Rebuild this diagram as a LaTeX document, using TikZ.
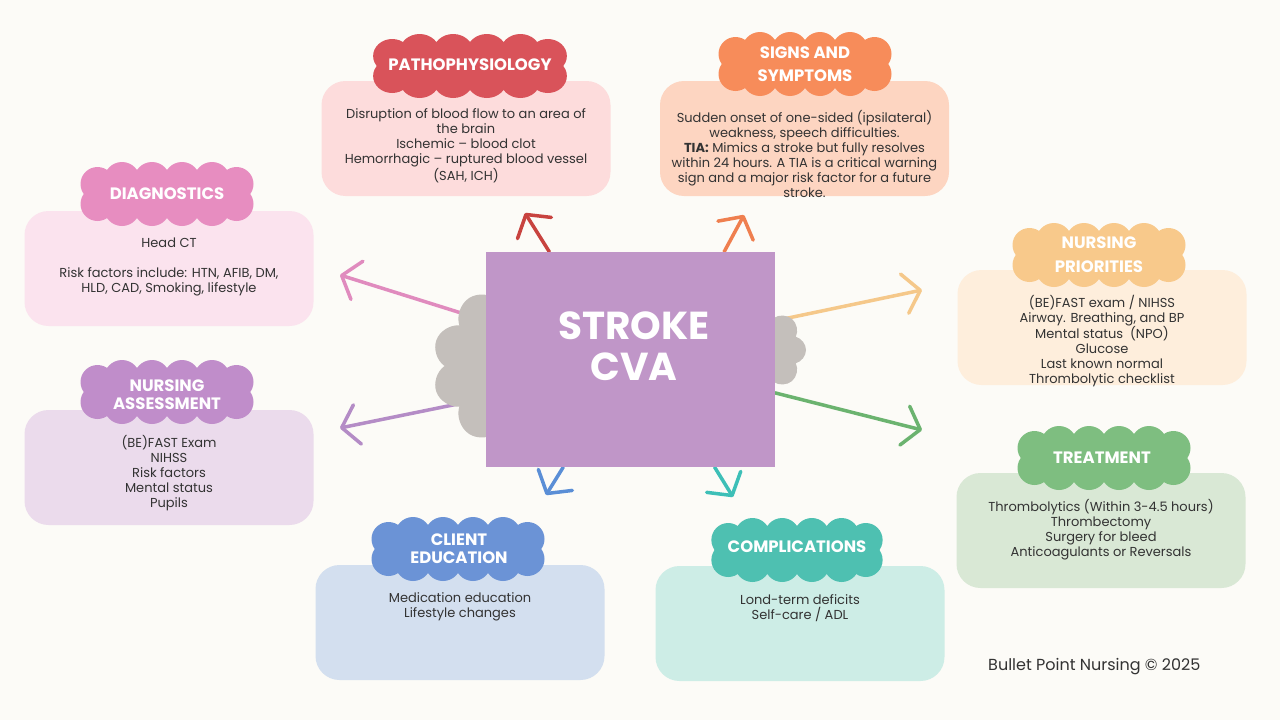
\documentclass[tikz,border=0pt]{standalone}
\usepackage{fontspec}
\setmainfont{Poppins}
\usepackage{tikz}
\usetikzlibrary{arrows.meta,positioning,calc,backgrounds,shapes.symbols}
\pgfdeclarelayer{page}
\pgfsetlayers{page,background,main}

\definecolor{pagebg}{HTML}{FCFBF7}
\definecolor{inktext}{HTML}{333333}
\definecolor{strokefill}{HTML}{C096C8}
\definecolor{puffgray}{HTML}{C4BFBB}
% topic colours: dark for the head, light for the box
\definecolor{pathdark}{HTML}{D9535A}
\definecolor{pathlight}{HTML}{FDDCDC}
\definecolor{signdark}{HTML}{F78C5A}
\definecolor{signlight}{HTML}{FDD5C1}
\definecolor{diagdark}{HTML}{E78DC0}
\definecolor{diaglight}{HTML}{FBE3EE}
\definecolor{assessdark}{HTML}{C08DCA}
\definecolor{assesslight}{HTML}{EBDBEC}
\definecolor{priodark}{HTML}{F8C98B}
\definecolor{priolight}{HTML}{FEEEDC}
\definecolor{treatdark}{HTML}{7EBE80}
\definecolor{treatlight}{HTML}{D9E8D5}
\definecolor{edudark}{HTML}{6B93D6}
\definecolor{edulight}{HTML}{D3DFEF}
\definecolor{compdark}{HTML}{4EC0B1}
\definecolor{complight}{HTML}{CDEDE6}
% arrow colours
\definecolor{patharrow}{HTML}{C8433F}
\definecolor{signarrow}{HTML}{EF7F4F}
\definecolor{diagarrow}{HTML}{E08BBE}
\definecolor{assessarrow}{HTML}{B48CC6}
\definecolor{prioarrow}{HTML}{F5C88A}
\definecolor{treatarrow}{HTML}{6BB36F}
\definecolor{eduarrow}{HTML}{5A8ED6}
\definecolor{comparrow}{HTML}{3DBFB7}

\tikzset{
  topicbox/.style={rounded corners=24pt, minimum width=289pt, minimum height=115pt, inner sep=0pt},
  headtext/.style={text=white, font=\bfseries\fontsize{16.5}{18}\selectfont, align=center, inner sep=0pt},
  bodytext/.style={text=inktext, font=\fontsize{13}{15}\selectfont, align=center, inner sep=0pt},
  graypuff/.style={cloud, cloud ignores aspect, fill=puffgray, inner sep=0pt},
  sketcharrow/.style={-{Straight Barb[length=16pt,width=40pt,round]}, line width=3.5pt, line cap=round}
}

% scalloped head behind a title: #1 centre, #2 colour, #3 x stretch
\newcommand{\headcloud}[3]{%
  \begin{scope}[shift={(#1)}, xscale=#3]
    \fill[#2] (-70,-14) rectangle (70,14);
    \foreach \px in {-45,-15,15,45}
      \fill[#2] (\px,-14) circle[radius=18] (\px,14) circle[radius=18];
    \foreach \px in {-69.5,69.5}
      \fill[#2] (\px,-10) circle[radius=17] (\px,10) circle[radius=17];
  \end{scope}}

\begin{document}
\begin{tikzpicture}[x=1pt, y=-1pt]
  \useasboundingbox (0,0) rectangle (1280,720);
  \begin{pgfonlayer}{page}
    \fill[pagebg] (0,0) rectangle (1280,720);
  \end{pgfonlayer}

  % grey puffs behind the centre
  \node[graypuff, cloud puffs=10, minimum width=180pt, minimum height=168pt] (leftpuff) at (522,366) {};
  \node[graypuff, cloud puffs=8, minimum width=96pt, minimum height=88pt] (rightpuff) at (758,350) {};

  % centre
  \node[fill=strokefill, minimum width=289pt, minimum height=215pt, inner sep=0pt] (stroke) at (630.5,359.5) {};
  \node[text=white, font=\bfseries\fontsize{39}{41}\selectfont, align=center, inner sep=0pt] (strokelabel) at (634,346) {STROKE\\CVA};

  % topic boxes
  \node[topicbox, fill=pathlight] (pathbox) at (466,138.5) {};
  \node[topicbox, fill=signlight] (signbox) at (804.5,138.5) {};
  \node[topicbox, fill=diaglight] (diagbox) at (169,268.5) {};
  \node[topicbox, fill=assesslight] (assessbox) at (169,467.5) {};
  \node[topicbox, fill=priolight] (priobox) at (1102,327.5) {};
  \node[topicbox, fill=treatlight] (treatbox) at (1101,530.5) {};
  \node[topicbox, fill=edulight] (edubox) at (460,622.5) {};
  \node[topicbox, fill=complight] (compbox) at (800,623.5) {};

  % cloud heads
  \coordinate (pathhead) at (470,66);
  \coordinate (signhead) at (805,64);
  \coordinate (diaghead) at (167,194);
  \coordinate (assesshead) at (167,392);
  \coordinate (priohead) at (1099,255);
  \coordinate (treathead) at (1104,458);
  \coordinate (eduhead) at (458,549);
  \coordinate (comphead) at (797,550);
  \headcloud{pathhead}{pathdark}{1.12}
  \headcloud{signhead}{signdark}{1}
  \headcloud{diaghead}{diagdark}{1}
  \headcloud{assesshead}{assessdark}{1}
  \headcloud{priohead}{priodark}{1}
  \headcloud{treathead}{treatdark}{1}
  \headcloud{eduhead}{edudark}{1}
  \headcloud{comphead}{compdark}{0.99}

  \node[headtext] (pathtitle) at ($(pathhead)+(0,-1)$) {PATHOPHYSIOLOGY};
  \node[headtext, font=\bfseries\fontsize{16.5}{23}\selectfont] (signtitle) at (signhead) {SIGNS AND\\SYMPTOMS};
  \node[headtext] (diagtitle) at (diaghead) {DIAGNOSTICS};
  \node[headtext] (assesstitle) at ($(assesshead)+(0,3)$) {NURSING\\ASSESSMENT};
  \node[headtext, font=\bfseries\fontsize{16.5}{24}\selectfont] (priotitle) at (priohead) {NURSING\\PRIORITIES};
  \node[headtext] (treattitle) at ($(treathead)+(-2,0)$) {TREATMENT};
  \node[headtext] (edutitle) at ($(eduhead)+(1,0)$) {CLIENT\\EDUCATION};
  \node[headtext] (comptitle) at ($(comphead)+(0,-3)$) {COMPLICATIONS};

  % box contents
  \node[bodytext, below=28pt of pathbox.north] (pathtext)
    {Disruption of blood flow to an area of\\the brain\\Ischemic -- blood clot\\Hemorrhagic -- ruptured blood vessel\\(SAH, ICH)};
  \node[bodytext, below=29pt of signbox.north] (signtext)
    {Sudden onset of one-sided (ipsilateral)\\weakness, speech difficulties.\\\textbf{TIA:} Mimics a stroke but fully resolves\\within 24 hours. A TIA is a critical warning\\sign and a major risk factor for a future\\stroke.};
  \node[bodytext, below=27pt of diagbox.north] (diagtext)
    {Head CT\\[15pt]Risk factors include: HTN, AFIB, DM,\\HLD, CAD, Smoking, lifestyle};
  \node[bodytext, below=25pt of assessbox.north] (assesstext)
    {(BE)FAST Exam\\NIHSS\\Risk factors\\Mental status\\Pupils};
  \node[bodytext, below=25pt of priobox.north] (priotext)
    {(BE)FAST exam / NIHSS\\Airway. Breathing, and BP\\Mental status~~(NPO)\\Glucose\\Last known normal\\Thrombolytic checklist};
  \node[bodytext, below=26pt of treatbox.north] (treattext)
    {Thrombolytics (Within 3-4.5 hours)\\Thrombectomy\\Surgery for bleed\\Anticoagulants or Reversals};
  \node[bodytext, below=28pt of edubox.north] (edutext)
    {Medication education\\Lifestyle changes};
  \node[bodytext, below=29pt of compbox.north] (comptext)
    {Lond-term deficits\\Self-care / ADL};

  \node[text=inktext, font=\fontsize{16}{17}\selectfont, anchor=west, inner sep=0pt] (credit) at (988,667) {Bullet Point Nursing © 2025};

  % arrow tips
  \coordinate (pathtip) at (525,213);
  \coordinate (signtip) at (744,215);
  \coordinate (diagtip) at (340,275);
  \coordinate (assesstip) at (340,428);
  \coordinate (priotip) at (922,290);
  \coordinate (treattip) at (922,430);
  \coordinate (edutip) at (546,495);
  \coordinate (comptip) at (733,497);

  % arrows run under the centre
  \begin{scope}[on background layer]
    \draw[sketcharrow, patharrow] (stroke.127.5) -- (pathtip);
    \draw[sketcharrow, signarrow] (stroke.49) -- (signtip);
    \draw[sketcharrow, diagarrow] (stroke.165) -- (diagtip);
    \draw[sketcharrow, assessarrow] (stroke.195) -- (assesstip);
    \draw[sketcharrow, prioarrow] (stroke.15.4) -- (priotip);
    \draw[sketcharrow, treatarrow] (stroke.347.7) -- (treattip);
    \draw[sketcharrow, eduarrow] (stroke.238) -- (edutip);
    \draw[sketcharrow, comparrow] (stroke.308.5) -- (comptip);
  \end{scope}
\end{tikzpicture}
\end{document}
